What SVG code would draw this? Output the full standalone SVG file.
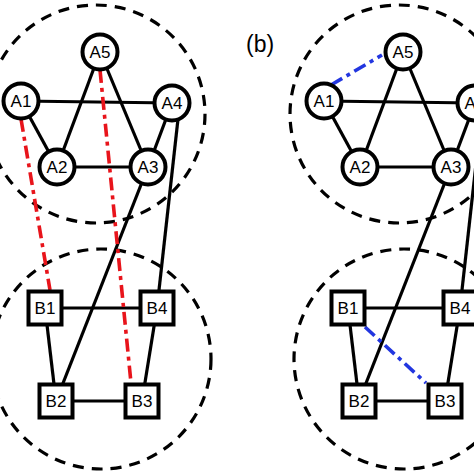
<svg xmlns="http://www.w3.org/2000/svg" width="474" height="474" viewBox="0 0 474 474">
<style>
.zone{fill:none;stroke:#000;stroke-width:3.2;stroke-dasharray:11 8}
.e{stroke:#000;stroke-width:3.2;fill:none}
.red{stroke:#e8141b;stroke-width:3.6;stroke-dasharray:13 5 4 5;fill:none}
.blue{stroke:#2236e0;stroke-width:3.6;stroke-dasharray:13 5 4 5;fill:none}
.cn{fill:#fff;stroke:#000;stroke-width:4}
.bn{fill:#fff;stroke:#000;stroke-width:4}
text{font-family:"Liberation Sans",Arial,sans-serif;font-size:17px;fill:#000}
.lbl{text-anchor:middle;dominant-baseline:central}
</style>
<rect width="474" height="474" fill="#fff"/>
<g id="zones">
<circle class="zone" cx="96" cy="114" r="109"/>
<circle class="zone" cx="101" cy="359" r="110"/>
<circle class="zone" cx="399" cy="114" r="109"/>
<circle class="zone" cx="404" cy="359" r="110"/>
</g>
<text x="246" y="52" style="font-size:23px">(b)</text>
<g id="connectors">
<!-- panel a -->
<line class="e" x1="21" y1="101" x2="172" y2="103"/>
<line class="e" x1="21" y1="101" x2="57" y2="167"/>
<line class="e" x1="57" y1="167" x2="148" y2="167"/>
<line class="e" x1="57" y1="167" x2="100" y2="52"/>
<line class="e" x1="100" y1="52" x2="148" y2="167"/>
<line class="e" x1="148" y1="167" x2="172" y2="103"/>
<line class="e" x1="148" y1="167" x2="56" y2="401"/>
<line class="e" x1="178" y1="119" x2="157" y2="308"/>
<line class="e" x1="45" y1="308" x2="157" y2="308"/>
<line class="e" x1="45" y1="308" x2="56" y2="401"/>
<line class="e" x1="56" y1="401" x2="142" y2="401"/>
<line class="e" x1="142" y1="401" x2="157" y2="308"/>
<line class="red" x1="21" y1="119" x2="50" y2="290"/>
<line class="red" x1="100" y1="70" x2="131" y2="383"/>
<!-- panel b -->
<line class="e" x1="324" y1="101" x2="475" y2="103"/>
<line class="e" x1="324" y1="101" x2="360" y2="167"/>
<line class="e" x1="360" y1="167" x2="451" y2="167"/>
<line class="e" x1="360" y1="167" x2="403" y2="52"/>
<line class="e" x1="403" y1="52" x2="451" y2="167"/>
<line class="e" x1="451" y1="167" x2="475" y2="103"/>
<line class="e" x1="451" y1="167" x2="359" y2="401"/>
<line class="e" x1="481" y1="119" x2="460" y2="308"/>
<line class="e" x1="348" y1="308" x2="460" y2="308"/>
<line class="e" x1="348" y1="308" x2="359" y2="401"/>
<line class="e" x1="359" y1="401" x2="445" y2="401"/>
<line class="e" x1="445" y1="401" x2="460" y2="308"/>
<line class="blue" x1="331" y1="85" x2="382" y2="55"/>
<line class="blue" x1="365" y1="327" x2="426" y2="383"/>
</g>
<g id="a-A1"><circle class="cn" cx="21" cy="101" r="17.5"/><text class="lbl" x="21" y="101">A1</text></g>
<g id="a-A2"><circle class="cn" cx="57" cy="167" r="17.5"/><text class="lbl" x="57" y="167">A2</text></g>
<g id="a-A3"><circle class="cn" cx="148" cy="167" r="17.5"/><text class="lbl" x="148" y="167">A3</text></g>
<g id="a-A4"><circle class="cn" cx="172" cy="103" r="17.5"/><text class="lbl" x="172" y="103">A4</text></g>
<g id="a-A5"><circle class="cn" cx="100" cy="52" r="17.5"/><text class="lbl" x="100" y="52">A5</text></g>
<g id="a-B1"><rect class="bn" x="28.5" y="291.5" width="33" height="33"/><text class="lbl" x="45" y="308">B1</text></g>
<g id="a-B4"><rect class="bn" x="140.5" y="291.5" width="33" height="33"/><text class="lbl" x="157" y="308">B4</text></g>
<g id="a-B2"><rect class="bn" x="39.5" y="384.5" width="33" height="33"/><text class="lbl" x="56" y="401">B2</text></g>
<g id="a-B3"><rect class="bn" x="125.5" y="384.5" width="33" height="33"/><text class="lbl" x="142" y="401">B3</text></g>
<g id="b-A1"><circle class="cn" cx="324" cy="101" r="17.5"/><text class="lbl" x="324" y="101">A1</text></g>
<g id="b-A2"><circle class="cn" cx="360" cy="167" r="17.5"/><text class="lbl" x="360" y="167">A2</text></g>
<g id="b-A3"><circle class="cn" cx="451" cy="167" r="17.5"/><text class="lbl" x="451" y="167">A3</text></g>
<g id="b-A4"><circle class="cn" cx="475" cy="103" r="17.5"/><text class="lbl" x="475" y="103">A4</text></g>
<g id="b-A5"><circle class="cn" cx="403" cy="52" r="17.5"/><text class="lbl" x="403" y="52">A5</text></g>
<g id="b-B1"><rect class="bn" x="331.5" y="291.5" width="33" height="33"/><text class="lbl" x="348" y="308">B1</text></g>
<g id="b-B4"><rect class="bn" x="443.5" y="291.5" width="33" height="33"/><text class="lbl" x="460" y="308">B4</text></g>
<g id="b-B2"><rect class="bn" x="342.5" y="384.5" width="33" height="33"/><text class="lbl" x="359" y="401">B2</text></g>
<g id="b-B3"><rect class="bn" x="428.5" y="384.5" width="33" height="33"/><text class="lbl" x="445" y="401">B3</text></g>
</svg>
